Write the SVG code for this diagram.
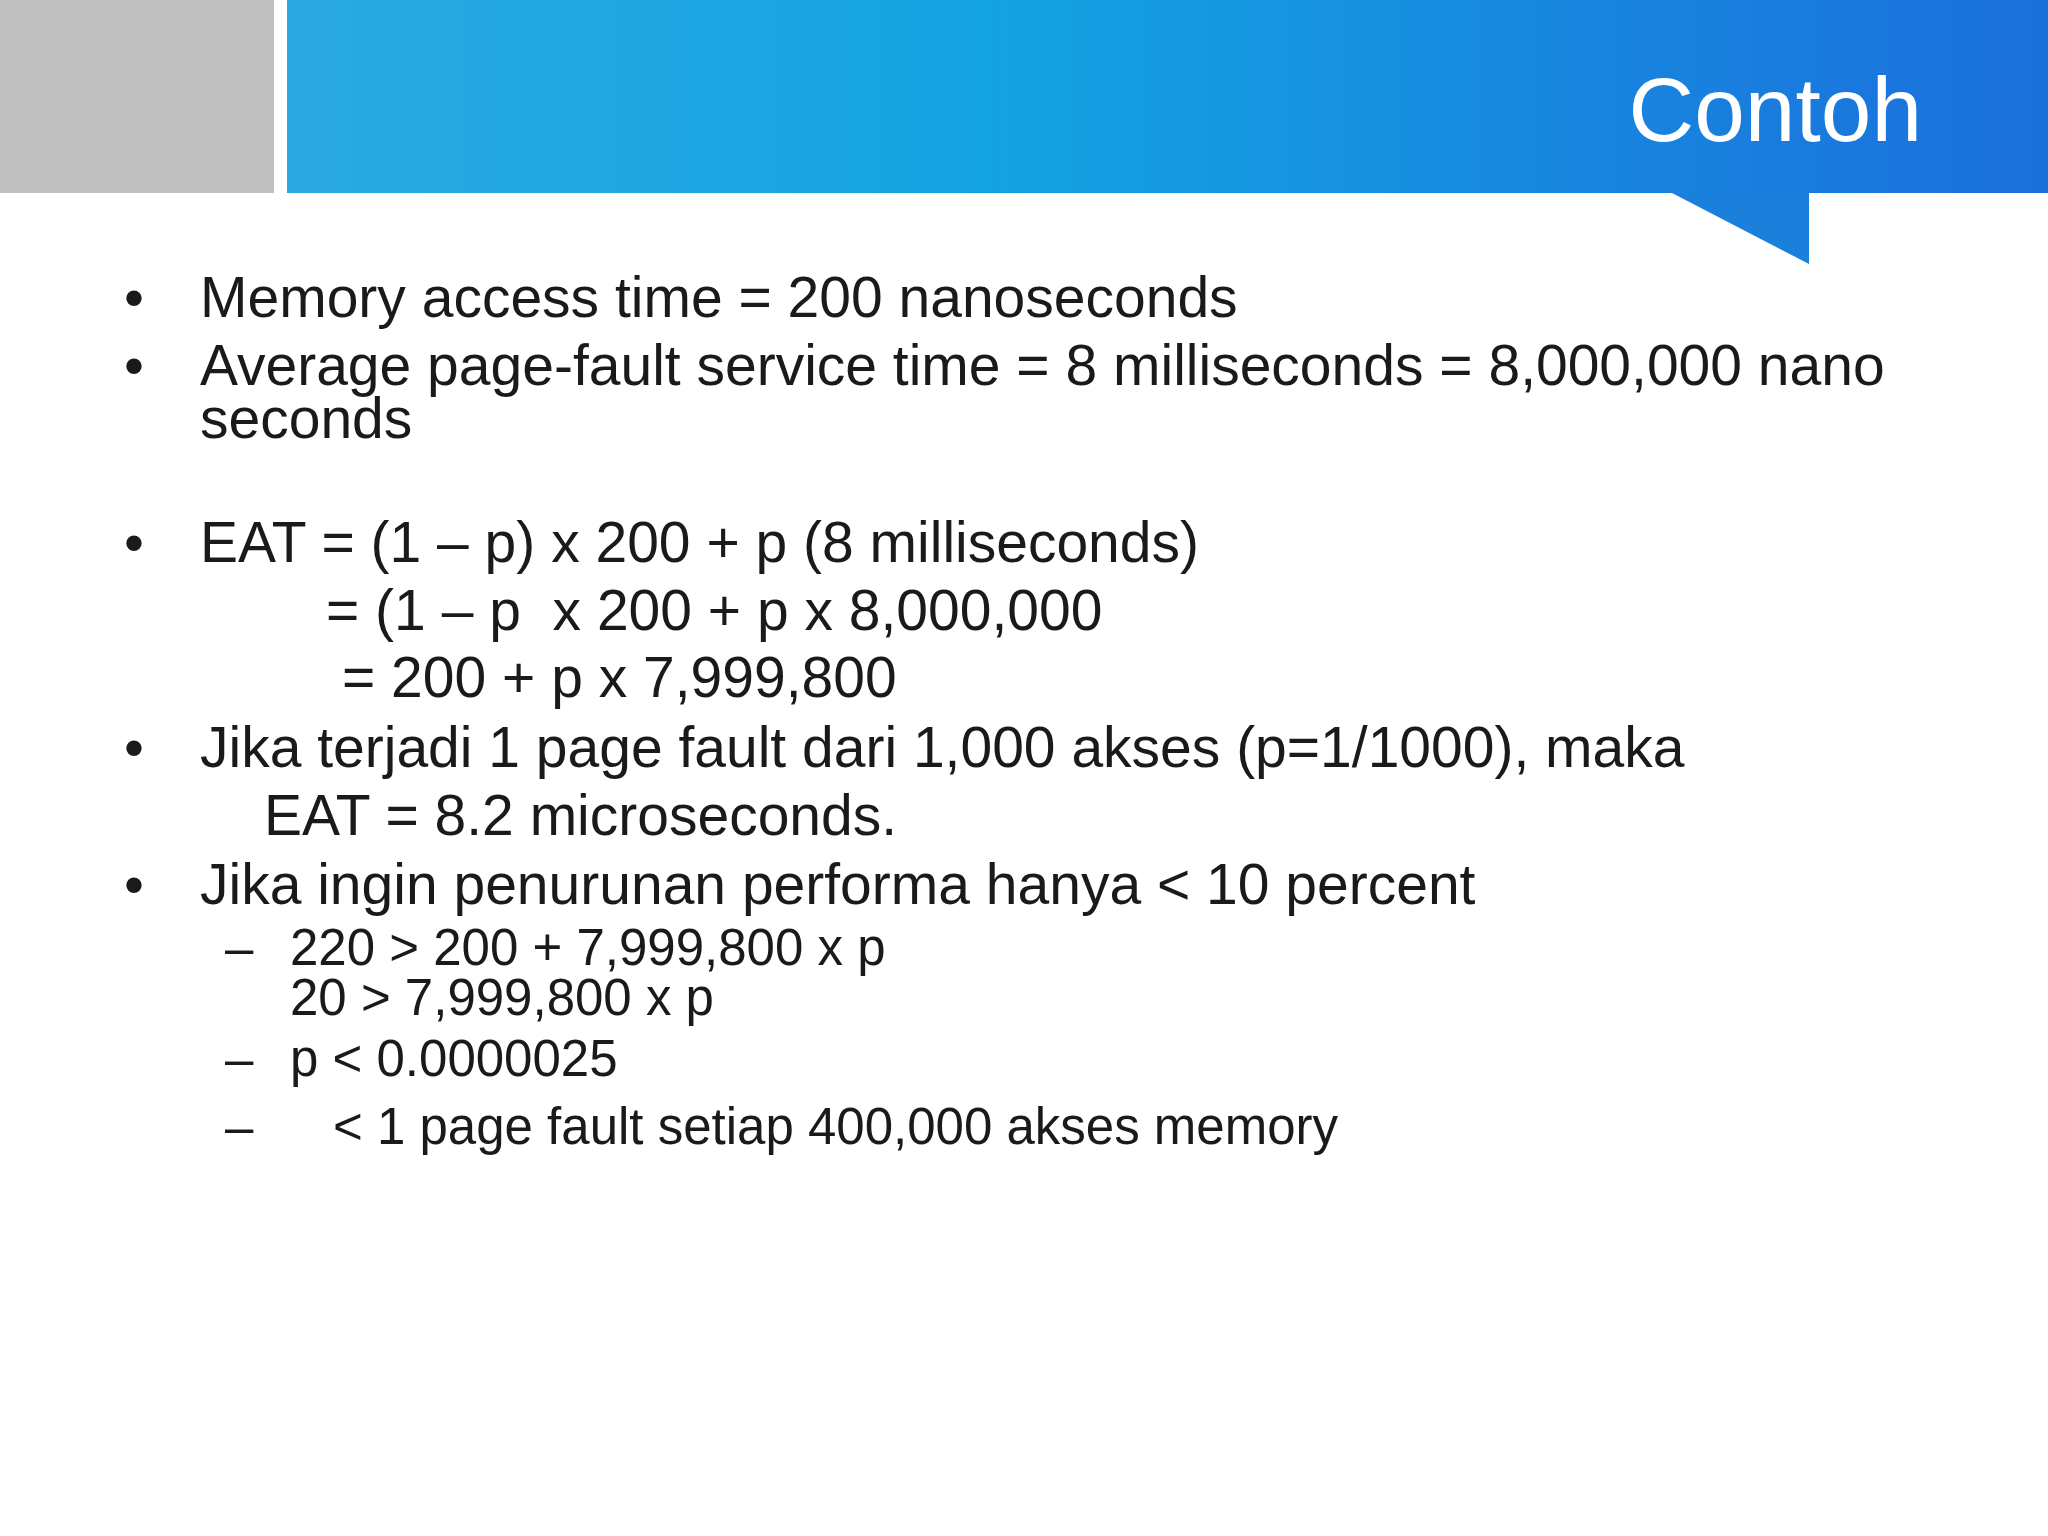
<svg xmlns="http://www.w3.org/2000/svg" width="2048" height="1536" viewBox="0 0 2048 1536">
<defs>
<linearGradient id="bg" x1="0" y1="0" x2="1" y2="0">
<stop offset="0" stop-color="#2aa9e0"/>
<stop offset="0.4" stop-color="#14a3e2"/>
<stop offset="1" stop-color="#1b6fdc"/>
</linearGradient>
<style>
.t{font-family:"Liberation Sans",Arial,sans-serif;font-size:57px;fill:#1a1a1a}
.s{font-family:"Liberation Sans",Arial,sans-serif;font-size:51px;fill:#1a1a1a}
</style>
</defs>
<rect width="2048" height="1536" fill="#fff"/>
<g id="header">
<rect x="0" y="0" width="274" height="193" fill="#c0c0c0"/>
<rect x="287" y="0" width="1761" height="193" fill="url(#bg)"/>
<polygon points="1672,193 1809,193 1809,264" fill="#1b7fdc"/>
<text x="1922" y="141" text-anchor="end" font-family="Liberation Sans,Arial,sans-serif" font-size="91" fill="#fff">Contoh</text>
</g>
<g id="body">
<text class="t" x="124" y="317">•</text><text class="t" x="200" y="317">Memory access time = 200 nanoseconds</text>
<text class="t" x="124" y="385">•</text><text class="t" x="200" y="385">Average page-fault service time = 8 milliseconds = 8,000,000 nano</text>
<text class="t" x="200" y="438">seconds</text>
<text class="t" x="124" y="562">•</text><text class="t" x="200" y="562">EAT = (1 – p) x 200 + p (8 milliseconds)</text>
<text class="t" x="326" y="630" xml:space="preserve">= (1 – p  x 200 + p x 8,000,000</text>
<text class="t" x="342" y="697">= 200 + p x 7,999,800</text>
<text class="t" x="124" y="767">•</text><text class="t" x="200" y="767">Jika terjadi 1 page fault dari 1,000 akses (p=1/1000), maka</text>
<text class="t" x="264" y="835">EAT = 8.2 microseconds.</text>
<text class="t" x="124" y="904">•</text><text class="t" x="200" y="904">Jika ingin penurunan performa hanya &lt; 10 percent</text>
<text class="s" x="225" y="965">–</text><text class="s" x="290" y="965">220 &gt; 200 + 7,999,800 x p</text>
<text class="s" x="290" y="1015">20 &gt; 7,999,800 x p</text>
<text class="s" x="225" y="1076">–</text><text class="s" x="290" y="1076">p &lt; 0.0000025</text>
<text class="s" x="225" y="1144">–</text><text class="s" x="333" y="1144">&lt; 1 page fault setiap 400,000 akses memory</text>
</g>
</svg>
